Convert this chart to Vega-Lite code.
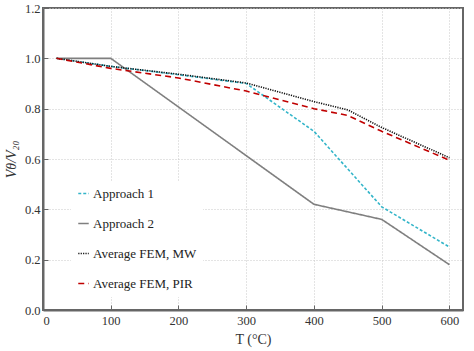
{
  "$schema": "https://vega.github.io/schema/vega-lite/v6.json",
  "width": 420,
  "height": 302,
  "autosize": {"type": "none"},
  "padding": {"left": 43, "top": 8, "right": 11, "bottom": 41},
  "background": "white",
  "config": {
    "font": "'Liberation Serif', 'DejaVu Serif', serif",
    "view": {"stroke": "#666666", "strokeWidth": 2},
    "axis": {
      "labelFont": "'Liberation Serif', 'DejaVu Serif', serif",
      "titleFont": "'Liberation Serif', 'DejaVu Serif', serif",
      "labelFontSize": 12.5,
      "titleFontSize": 14,
      "titleFontWeight": "normal",
      "labelColor": "#333333",
      "titleColor": "#333333",
      "domainColor": "#666666",
      "domainWidth": 2,
      "gridColor": "#c8c8c8",
      "gridDash": [1, 2],
      "gridWidth": 1,
      "tickColor": "#666666",
      "tickSize": -5
    },
    "legend": {
      "labelFont": "'Liberation Serif', 'DejaVu Serif', serif"
    }
  },
  "data": {
    "values": [
      {"T": 20, "V": 1.0, "series": "Approach 1"},
      {"T": 100, "V": 0.968, "series": "Approach 1"},
      {"T": 200, "V": 0.935, "series": "Approach 1"},
      {"T": 300, "V": 0.9, "series": "Approach 1"},
      {"T": 400, "V": 0.71, "series": "Approach 1"},
      {"T": 500, "V": 0.41, "series": "Approach 1"},
      {"T": 600, "V": 0.25, "series": "Approach 1"},
      {"T": 20, "V": 1.0, "series": "Approach 2"},
      {"T": 100, "V": 1.0, "series": "Approach 2"},
      {"T": 400, "V": 0.42, "series": "Approach 2"},
      {"T": 500, "V": 0.36, "series": "Approach 2"},
      {"T": 600, "V": 0.18, "series": "Approach 2"},
      {"T": 20, "V": 1.0, "series": "Average FEM, MW"},
      {"T": 100, "V": 0.968, "series": "Average FEM, MW"},
      {"T": 200, "V": 0.937, "series": "Average FEM, MW"},
      {"T": 300, "V": 0.902, "series": "Average FEM, MW"},
      {"T": 400, "V": 0.828, "series": "Average FEM, MW"},
      {"T": 450, "V": 0.795, "series": "Average FEM, MW"},
      {"T": 500, "V": 0.725, "series": "Average FEM, MW"},
      {"T": 600, "V": 0.605, "series": "Average FEM, MW"},
      {"T": 20, "V": 1.0, "series": "Average FEM, PIR"},
      {"T": 100, "V": 0.96, "series": "Average FEM, PIR"},
      {"T": 200, "V": 0.922, "series": "Average FEM, PIR"},
      {"T": 300, "V": 0.87, "series": "Average FEM, PIR"},
      {"T": 400, "V": 0.80, "series": "Average FEM, PIR"},
      {"T": 450, "V": 0.773, "series": "Average FEM, PIR"},
      {"T": 500, "V": 0.71, "series": "Average FEM, PIR"},
      {"T": 600, "V": 0.595, "series": "Average FEM, PIR"}
    ]
  },
  "mark": {"type": "line", "strokeWidth": 1.6},
  "encoding": {
    "x": {
      "field": "T", "type": "quantitative",
      "scale": {"domain": [0, 620], "nice": false},
      "axis": {"values": [0, 100, 200, 300, 400, 500, 600], "title": "T (°C)", "labelPadding": 9, "titlePadding": 6}
    },
    "y": {
      "field": "V", "type": "quantitative",
      "scale": {"domain": [0, 1.2], "nice": false},
      "axis": {"values": [0, 0.2, 0.4, 0.6, 0.8, 1.0, 1.2], "format": ".1f", "title": "Vθ/V₂₀", "titleFontStyle": "italic", "labelPadding": 8, "titlePadding": 6}
    },
    "color": {
      "field": "series", "type": "nominal",
      "scale": {
        "domain": ["Approach 1", "Approach 2", "Average FEM, MW", "Average FEM, PIR"],
        "range": ["#33b5c9", "#7f7f7f", "#111111", "#c00000"]
      },
      "legend": {
        "title": null,
        "orient": "none",
        "legendX": 28,
        "legendY": 173,
        "fillColor": "white",
        "padding": 6,
        "labelFontSize": 13,
        "labelColor": "#222222",
        "symbolType": "stroke",
        "symbolSize": 110,
        "symbolStrokeWidth": 1.6,
        "rowPadding": 16,
        "labelOffset": 3
      }
    },
    "strokeDash": {
      "field": "series", "type": "nominal",
      "scale": {
        "domain": ["Approach 1", "Approach 2", "Average FEM, MW", "Average FEM, PIR"],
        "range": [[3, 2], [1, 0], [1.2, 1.2], [6, 4]]
      },
      "legend": null
    },
    "strokeWidth": {
      "field": "series", "type": "nominal",
      "scale": {
        "domain": ["Approach 1", "Approach 2", "Average FEM, MW", "Average FEM, PIR"],
        "range": [1.5, 1.5, 1.2, 2]
      },
      "legend": null
    }
  }
}
